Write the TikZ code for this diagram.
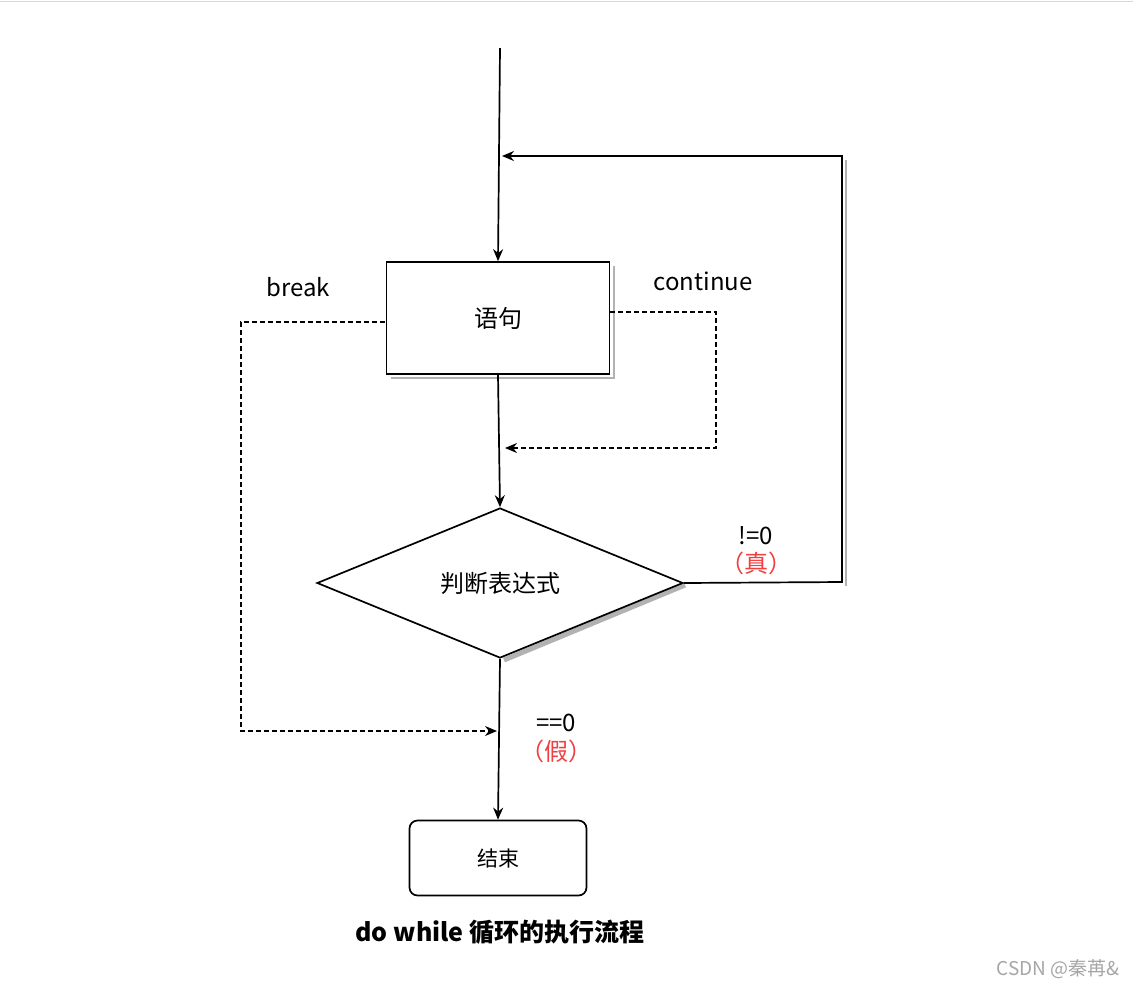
\documentclass[tikz,border=0pt]{standalone}
\usepackage{fontspec}
\setmainfont{Noto Sans CJK SC}
\usetikzlibrary{arrows.meta,shapes.geometric}
\definecolor{redt}{HTML}{F04040}
\tikzset{
  ln/.style={draw=black,line width=1.7pt},
  arr/.style={ln,-{Stealth[length=12pt,width=10pt]}},
  dsh/.style={draw=black,line width=1.4pt,dash pattern=on 5pt off 3pt,-{Stealth[length=12pt,width=10pt]}},
  shd/.style={draw=gray!60,line width=2.4pt},
  lbl/.style={font=\fontsize{24}{28}\selectfont},
}
\begin{document}
\begin{tikzpicture}[x=1pt,y=-1pt]
\useasboundingbox[fill=white] (0,0) rectangle (1133,989);
\draw[gray!30] (0,1) -- (1133,1);
% shadows
\draw[shd] (391,378) -- (614,378) -- (614,266);
\draw[shd,line width=5pt] (504,660) -- (685,585);
\draw[shd] (846,586) -- (846,160);
% nodes
\node[ln,minimum width=223pt,minimum height=112pt,lbl,fill=white] (s) at (498,318) {语句};
\node[ln,diamond,aspect=2.12,minimum width=366pt,minimum height=150pt,inner sep=0pt,lbl,fill=white] (d) at (500,583) {判断表达式};
\node[ln,rounded corners=8pt,minimum width=177pt,minimum height=75pt,font=\fontsize{21}{24}\selectfont] (e) at (498,858) {结束};
\coordinate (top) at (500,48);
% connectors
\draw[arr] (top) -- (s.north);
\draw[arr] (s.south) -- (d.north);
\draw[arr] (d.south) -- (e.north);
\draw[arr] (d.east) -- (842,582) -- (842,156) -- (502,156);
\draw[dsh] (610,312) -- (716,312) -- (716,448) -- (505,448);
\draw[dsh] (385,322) -- (241,322) -- (241,731) -- (497,731);
% labels
\node[lbl] (lb) at (298,287) {break};
\node[lbl] (lc) at (703,281) {continue};
\node[lbl] (l1) at (756,536) {!=0};
\node[lbl,text=redt] (l2) at (756,563) {（真）};
\node[lbl] (l3) at (556,723) {==0};
\node[lbl,text=redt] (l4) at (556,751) {（假）};
\node[font=\bfseries\fontsize{25}{30}\selectfont] (t) at (500,932) {do while 循环的执行流程};
\node[text=gray!70,font=\fontsize{19}{22}\selectfont] (w) at (1058,969) {CSDN @秦苒\&};
\end{tikzpicture}
\end{document}
